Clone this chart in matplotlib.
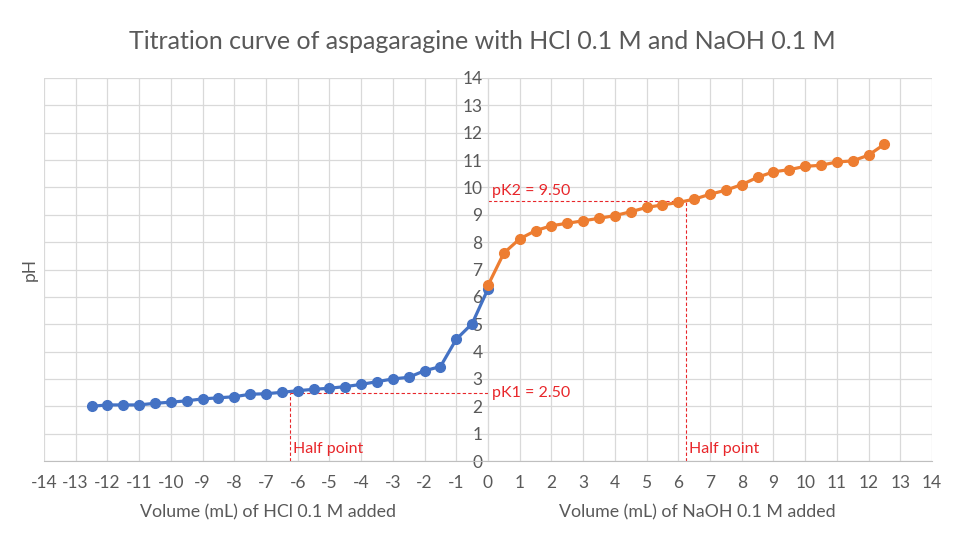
import matplotlib.pyplot as plt

plt.rcParams['font.family'] = ['Lato', 'DejaVu Sans']
plt.rcParams['axes.unicode_minus'] = False

# volumes (mL) and pH
hcl_vol = [-12.5, -12, -11.5, -11, -10.5, -10, -9.5, -9, -8.5, -8, -7.5, -7, -6.5,
           -6, -5.5, -5, -4.5, -4, -3.5, -3, -2.5, -2, -1.5, -1, -0.5, 0]
hcl_ph = [2.00, 2.05, 2.05, 2.05, 2.11, 2.15, 2.20, 2.27, 2.31, 2.35, 2.44, 2.46, 2.51,
          2.57, 2.62, 2.66, 2.72, 2.80, 2.90, 3.00, 3.06, 3.30, 3.45, 4.45, 5.02, 6.29]
naoh_vol = [0, 0.5, 1, 1.5, 2, 2.5, 3, 3.5, 4, 4.5, 5, 5.5, 6, 6.5, 7, 7.5, 8, 8.5,
            9, 9.5, 10, 10.5, 11, 11.5, 12, 12.5]
naoh_ph = [6.42, 7.60, 8.12, 8.42, 8.60, 8.69, 8.78, 8.87, 8.97, 9.11, 9.27, 9.36, 9.45,
           9.57, 9.75, 9.90, 10.10, 10.37, 10.57, 10.65, 10.77, 10.81, 10.93, 10.97, 11.18, 11.58]

pk1, pk2 = 2.50, 9.50
half1, half2 = -6.25, 6.25

xticks = list(range(-14, 15))
yticks = list(range(0, 15))

fig = plt.figure(figsize=(9.64, 5.45), dpi=100)
ax = fig.add_axes([0.0456, 0.1541, 0.9212, 0.7028])

ax.set_xlim(-14, 14)
ax.set_ylim(0, 14)
ax.set_xticks(xticks)
ax.set_yticks(yticks)
ax.grid(True, color='#d9d9d9', linewidth=0.9)
ax.set_axisbelow(True)

for s in ['top', 'right']:
    ax.spines[s].set_visible(False)
ax.spines['left'].set_position(('data', 0))
ax.spines['left'].set_color('#d9d9d9')
ax.spines['bottom'].set_color('#bfbfbf')
ax.tick_params(length=0, labelsize=12.5, colors='#595959')
ax.tick_params(axis='x', pad=10)
ax.tick_params(axis='y', pad=4)

# red guides
red = '#e8262a'
ax.plot([half1, 0], [pk1, pk1], color=red, lw=0.8, ls=(0, (3, 2)), zorder=2)
ax.plot([half1, half1], [0, pk1], color=red, lw=0.8, ls=(0, (3, 2)), zorder=2)
ax.plot([0, half2], [pk2, pk2], color=red, lw=0.8, ls=(0, (3, 2)), zorder=2)
ax.plot([half2, half2], [0, pk2], color=red, lw=0.8, ls=(0, (3, 2)), zorder=2)

ax.plot(hcl_vol, hcl_ph, color='#4472c4', lw=2.3, marker='o', ms=7, zorder=3)
ax.plot(naoh_vol, naoh_ph, color='#ed7d31', lw=2.3, marker='o', ms=7, zorder=4)

ax.text(0.12, pk1, 'pK1 = 2.50', color=red, fontsize=11.5, va='center', ha='left')
ax.text(0.12, pk2 + 0.1, 'pK2 = 9.50', color=red, fontsize=11.5, va='bottom', ha='left')
ax.text(half1 + 0.1, 0.45, 'Half point', color=red, fontsize=11.5, va='center', ha='left')
ax.text(half2 + 0.1, 0.45, 'Half point', color=red, fontsize=11.5, va='center', ha='left')

fig.text(0.5, 0.923, 'Titration curve of aspagaragine with HCl 0.1 M and NaOH 0.1 M',
         ha='center', va='center', fontsize=18, color='#595959')
fig.text(0.031, 0.505, 'pH', rotation=90, ha='center', va='center', fontsize=12.5, color='#595959')
fig.text(0.278, 0.06, 'Volume (mL) of HCl 0.1 M added', ha='center', va='center',
         fontsize=12.8, color='#595959')
fig.text(0.723, 0.06, 'Volume (mL) of NaOH 0.1 M added', ha='center', va='center',
         fontsize=12.8, color='#595959')

fig.savefig('out.png', dpi=100)
